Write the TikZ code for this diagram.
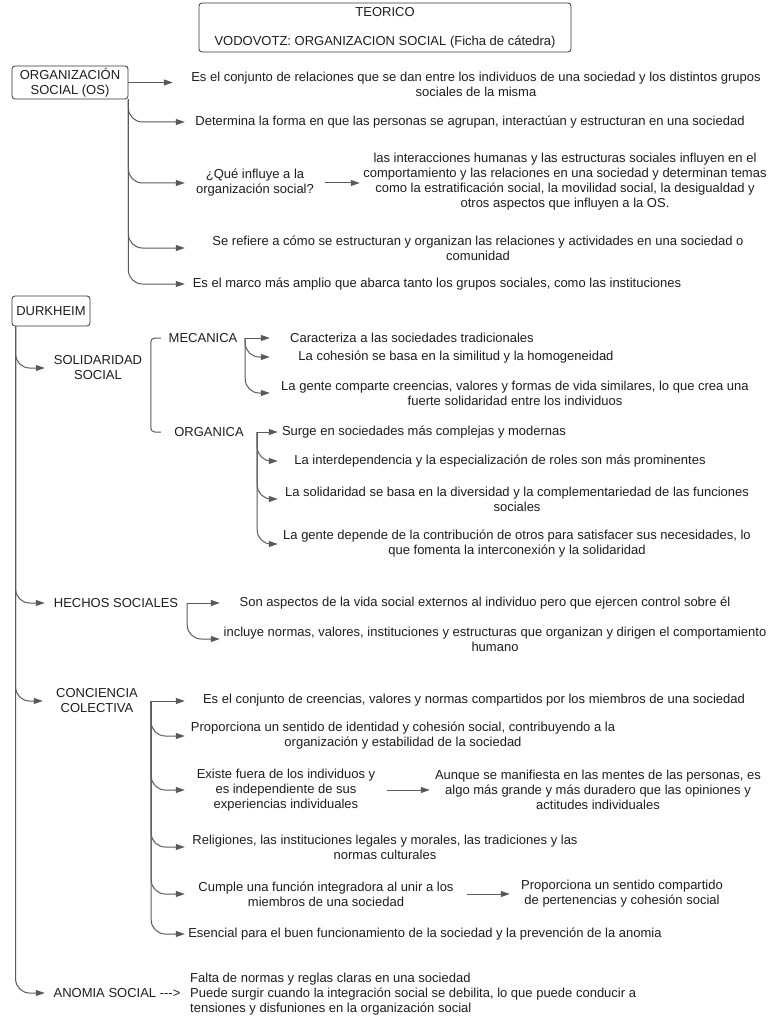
\documentclass[tikz,border=0pt]{standalone}
\usepackage{fontspec}
\setmainfont{Liberation Sans}
\usetikzlibrary{arrows.meta}
\definecolor{ink}{HTML}{1E1E1E}
\definecolor{linegray}{HTML}{5A5A5A}
\begin{document}
\begin{tikzpicture}[x=1pt,y=-1pt,
    txt/.style={align=center,inner sep=0pt,text=ink,font=\fontsize{13}{15}\selectfont},
    box/.style={txt,draw=ink!90,rounded corners=3pt,line width=0.8pt},
    arr/.style={draw=linegray,line width=1pt,-{Triangle[length=9pt,width=6pt]}},
    brc/.style={arr,rounded corners=14pt}]
    \useasboundingbox[fill=white] (0,0) rectangle (768,1024);
    \node[box,minimum width=372,minimum height=49] (title) at (385,27.5) {TEORICO\\[14pt]VODOVOTZ: ORGANIZACION SOCIAL (Ficha de cátedra)};
    \node[box,minimum width=116,minimum height=33] (os) at (70,82.5) {ORGANIZACIÓN\\SOCIAL (OS)};
    \node[txt,minimum width=606] (os1) at (476,84) {Es el conjunto de relaciones que se dan entre los individuos de una sociedad y los distintos grupos\\sociales de la misma};
    \node[txt,minimum width=570] (os2) at (470,122) {Determina la forma en que las personas se agrupan, interactúan y estructuran en una sociedad};
    \node[txt,minimum width=140] (os3) at (255,183) {¿Qué influye a la\\organización social?};
    \node[txt,minimum width=410] (os3b) at (565,182) {las interacciones humanas y las estructuras sociales influyen en el\\comportamiento y las relaciones en una sociedad y determinan temas\\como la estratificación social, la movilidad social, la desigualdad y\\otros aspectos que influyen a la OS.};
    \node[txt,minimum width=586] (os4) at (478,248) {Se refiere a cómo se estructuran y organizan las relaciones y actividades en una sociedad o\\comunidad};
    \node[txt,minimum width=504] (os5) at (437,284) {Es el marco más amplio que abarca tanto los grupos sociales, como las instituciones};
    \draw[arr] (os.east) -- (os.east -| os1.west);
    \draw[brc] (os.south east) |- (os2.west); \draw[brc] (os.south east) |- (os3.west);
    \draw[brc] (os.south east) |- (os4.west); \draw[brc] (os.south east) |- (os5.west);
    \draw[arr] (os3.east) -- (os3.east -| os3b.west);
    \node[box,minimum width=78,minimum height=30] (durk) at (51,311) {DURKHEIM};
    \node[txt,minimum width=106] (sol) at (98,368) {SOLIDARIDAD\\SOCIAL};
    \node[txt,minimum width=84] (mec) at (203,338) {MECANICA};
    \node[txt,minimum width=96] (org) at (209,432) {ORGANICA};
    \draw[linegray,line width=1pt,rounded corners=4pt] (mec.west) -- ++(-10,0) |- (org.west);
    \node[txt,minimum width=284] (m1) at (412,338) {Caracteriza a las sociedades tradicionales};
    \node[txt,minimum width=372] (m2) at (456,357) {La cohesión se basa en la similitud y la homogeneidad};
    \node[txt,minimum width=490] (m3) at (515,393) {La gente comparte creencias, valores y formas de vida similares, lo que crea una\\fuerte solidaridad entre los individuos};
    \draw[arr] (mec.east) -- (mec.east -| m1.west);
    \draw[brc] (mec.east) |- (m2.west); \draw[brc] (mec.east) |- (m3.west);
    \node[txt,minimum width=292] (o1) at (424,432) {Surge en sociedades más complejas y modernas};
    \node[txt,minimum width=444] (o2) at (500,461) {La interdependencia y la especialización de roles son más prominentes};
    \node[txt,minimum width=478] (o3) at (517,499) {La solidaridad se basa en la diversidad y la complementariedad de las funciones\\sociales};
    \node[txt,minimum width=478] (o4) at (517,544) {La gente depende de la contribución de otros para satisfacer sus necesidades, lo\\que fomenta la interconexión y la solidaridad};
    \draw[arr] (org.east) -- (org.east -| o1.west);
    \draw[brc] (org.east) |- (o2.west); \draw[brc] (org.east) |- (o3.west); \draw[brc] (org.east) |- (o4.west);
    \node[txt,minimum width=142] (hec) at (116,603) {HECHOS SOCIALES};
    \node[txt,minimum width=530] (h1) at (485,603) {Son aspectos de la vida social externos al individuo pero que ejercen control sobre él};
    \node[txt,minimum width=550] (h2) at (495,639) {incluye normas, valores, instituciones y estructuras que organizan y dirigen el comportamiento\\humano};
    \draw[arr] (hec.east) -- (hec.east -| h1.west); \draw[brc] (hec.east) |- (h2.west);
    \node[txt,minimum width=108] (con) at (97,701) {CONCIENCIA\\COLECTIVA};
    \node[txt,minimum width=578] (c1) at (474,700) {Es el conjunto de creencias, valores y normas compartidos por los miembros de una sociedad};
    \node[txt,minimum width=436] (c2) at (403,736) {Proporciona un sentido de identidad y cohesión social, contribuyendo a la\\organización y estabilidad de la sociedad};
    \node[txt,minimum width=202] (c3) at (286,790) {Existe fuera de los individuos y\\es independiente de sus\\experiencias individuales};
    \node[txt,minimum width=336] (c3b) at (598,790) {Aunque se manifiesta en las mentes de las personas, es\\algo más grande y más duradero que las opiniones y\\actitudes individuales};
    \node[txt,minimum width=400] (c4) at (385,847) {Religiones, las instituciones legales y morales, las tradiciones y las\\normas culturales};
    \node[txt,minimum width=282] (c5) at (326,894) {Cumple una función integradora al unir a los\\miembros de una sociedad};
    \node[txt,minimum width=224] (c5b) at (622,894) {Proporciona un sentido compartido\\de pertenencias y cohesión social};
    \node[txt,minimum width=480] (c6) at (425,934) {Esencial para el buen funcionamiento de la sociedad y la prevención de la anomia};
    \draw[arr] (con.east) -- (con.east -| c1.west);
    \draw[brc] (con.east) |- (c2.west); \draw[brc] (con.east) |- (c3.west); \draw[brc] (con.east) |- (c4.west);
    \draw[brc] (con.east) |- (c5.west); \draw[brc] (con.east) |- (c6.west);
    \draw[arr] (c3.east) -- (c3.east -| c3b.west); \draw[arr] (c5.east) -- (c5.east -| c5b.west);
    \node[txt,minimum width=144] (ano) at (117,993) {ANOMIA SOCIAL -{}-{}->};
    \node[txt,align=left,anchor=west] (anot) at (190,994) {Falta de normas y reglas claras en una sociedad\\Puede surgir cuando la integración social se debilita, lo que puede conducir a\\tensiones y disfuniones en la organización social};
    \draw[brc] ([xshift=4pt]durk.south west) |- (sol.west); \draw[brc] ([xshift=4pt]durk.south west) |- (hec.west);
    \draw[brc] ([xshift=4pt]durk.south west) |- (con.west); \draw[brc] ([xshift=4pt]durk.south west) |- (ano.west);
\end{tikzpicture}
\end{document}
